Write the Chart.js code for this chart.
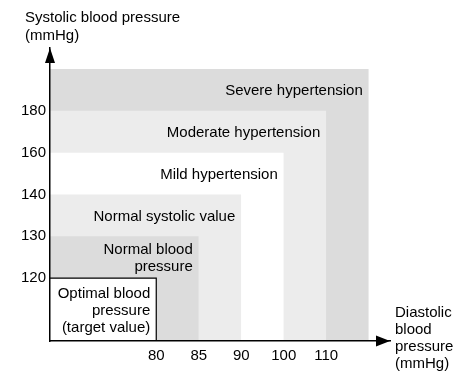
<!DOCTYPE html>
<html><head><meta charset="utf-8">
<script src="https://cdn.jsdelivr.net/npm/chart.js@4/dist/chart.umd.min.js"></script>
<style>html,body{margin:0;padding:0;background:#fff}#wrap{width:462px;height:380px}</style>
</head><body><div id="wrap"><canvas id="c" width="462" height="380"></canvas></div>
<script>
// ---- data ----
const categoryLines = [
  ['Optimal blood', 'pressure', '(target value)'],
  ['Normal blood', 'pressure'],
  ['Normal systolic value'],
  ['Mild hypertension'],
  ['Moderate hypertension'],
  ['Severe hypertension']
];
const categories = categoryLines.map(l => l.join(' '));
const systolicUpper = [120, 130, 140, 160, 180, null];   // null = open ended
const diastolicUpper = [80, 85, 90, 100, 110, null];
const systolicTicks = [120, 130, 140, 160, 180];
const diastolicTicks = [80, 85, 90, 100, 110];
const yTitle = ['Systolic blood pressure', '(mmHg)'];
const xTitle = ['Diastolic', 'blood', 'pressure', '(mmHg)'];

// ---- styles ----
const fillColors = ['#ffffff', '#dcdcdc', '#ececec', '#ffffff', '#ececec', '#dcdcdc'];
const FONT = '15px "Liberation Sans", Arial, Helvetica, sans-serif';

// schematic (ordinal) axes: each class limit sits one step further out
const X_OFFSET = 2.5, Y_OFFSET = 1.5;
function xPos(v) { return v === null ? diastolicTicks.length + X_OFFSET : diastolicTicks.indexOf(v) + X_OFFSET; }
function yPos(v) { return v === null ? systolicTicks.length + Y_OFFSET : systolicTicks.indexOf(v) + Y_OFFSET; }

const datasets = categories.map((c, i) => ({
  label: c,
  data: [
    {x: 0, y: yPos(systolicUpper[i])},
    {x: xPos(diastolicUpper[i]), y: yPos(systolicUpper[i])},
    {x: xPos(diastolicUpper[i]), y: 0}
  ],
  backgroundColor: fillColors[i],
  borderColor: i === 0 ? '#000' : 'rgba(0,0,0,0)',
  borderWidth: i === 0 ? 1.2 : 0,
  fill: 'origin',
  pointRadius: 0,
  tension: 0
}));

const labelPlugin = {
  id: 'labels',
  afterDatasetsDraw(chart) {
    const {ctx, scales: {x, y}} = chart;
    ctx.save();
    ctx.font = FONT; ctx.fillStyle = '#000';
    ctx.textAlign = 'right'; ctx.textBaseline = 'middle';
    categoryLines.forEach((lines, i) => {
      const right = x.getPixelForValue(xPos(diastolicUpper[i])) - 6;
      const top = y.getPixelForValue(yPos(systolicUpper[i]));
      const bottom = i === 0 ? y.getPixelForValue(0) : y.getPixelForValue(yPos(systolicUpper[i - 1]));
      const mid = (top + bottom) / 2 + 1.5;
      lines.forEach((t, k) => ctx.fillText(t, right, mid + (k - (lines.length - 1) / 2) * 17));
    });
    ctx.restore();
  },
  afterDraw(chart) {
    const {ctx, chartArea: a} = chart;
    ctx.save();
    ctx.fillStyle = '#000';
    // y arrow
    ctx.beginPath();
    ctx.moveTo(a.left, a.top); ctx.lineTo(a.left - 5, a.top + 15); ctx.lineTo(a.left + 5, a.top + 15);
    ctx.closePath(); ctx.fill();
    // x arrow
    ctx.beginPath();
    ctx.moveTo(a.right, a.bottom); ctx.lineTo(a.right - 14, a.bottom - 5.5); ctx.lineTo(a.right - 14, a.bottom + 5.5);
    ctx.closePath(); ctx.fill();
    ctx.font = FONT; ctx.textAlign = 'left'; ctx.textBaseline = 'middle';
    yTitle.forEach((t, k) => ctx.fillText(t, 25, a.top - 30 + k * 18));
    xTitle.forEach((t, k) => ctx.fillText(t, a.right + 5, a.bottom - 28 + k * 17));
    ctx.restore();
  }
};

new Chart(document.getElementById('c'), {
  type: 'line',
  data: {datasets},
  options: {
    responsive: false,
    animation: false,
    layout: {padding: {top: 48, right: 72, left: 0, bottom: 0}},
    plugins: {legend: {display: false}, tooltip: {enabled: false}},
    scales: {
      x: {
        type: 'linear', min: 0, max: 8,
        grid: {display: false, drawTicks: false},
        border: {display: true, color: '#000', width: 1.5, z: 1},
        afterBuildTicks: s => { s.ticks = diastolicTicks.map(v => ({value: xPos(v)})); },
        afterFit: s => { s.height = 39; },
        ticks: {
          font: {family: '"Liberation Sans", Arial, sans-serif', size: 15}, color: '#000', padding: 6,
          maxRotation: 0, autoSkip: false,
          callback: (val) => { const i = Math.round(val - X_OFFSET); return diastolicTicks[i] !== undefined ? String(diastolicTicks[i]) : ''; }
        }
      },
      y: {
        type: 'linear', min: 0, max: 7,
        grid: {display: false, drawTicks: false},
        border: {display: true, color: '#000', width: 1.5, z: 1},
        afterBuildTicks: s => { s.ticks = systolicTicks.map(v => ({value: yPos(v)})); },
        afterFit: s => { s.width = 50; },
        ticks: {
          font: {family: '"Liberation Sans", Arial, sans-serif', size: 15}, color: '#000', padding: 4,
          autoSkip: false,
          callback: (val) => { const i = Math.round(val - Y_OFFSET); return systolicTicks[i] !== undefined ? String(systolicTicks[i]) : ''; }
        }
      }
    }
  },
  plugins: [labelPlugin]
});
</script></body></html>
